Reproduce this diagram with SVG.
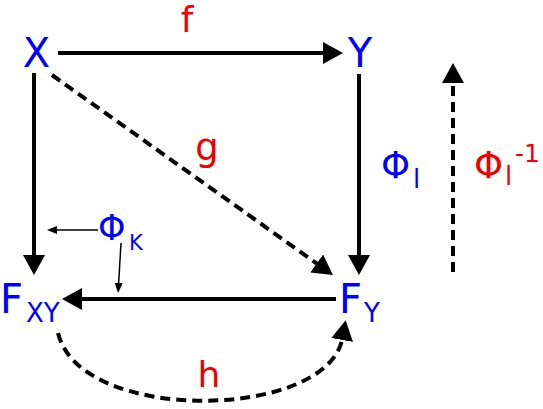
<svg xmlns="http://www.w3.org/2000/svg" width="543" height="409" viewBox="0 0 543 409">
<style>
  .lbl { font-family: "DejaVu Sans", "Liberation Sans", sans-serif; }
  .blue { fill: #0000ff; }
  .red { fill: #ee0000; }
  .thick { stroke: #000; stroke-width: 4; fill: none; }
  .dash { stroke: #000; stroke-width: 4; fill: none; stroke-dasharray: 10 6; }
  .thin { stroke: #000; stroke-width: 1.5; fill: none; }
</style>
<defs>
  <marker id="big" viewBox="0 0 20 22" refX="2" refY="11" markerWidth="20" markerHeight="22" markerUnits="userSpaceOnUse" orient="auto">
    <path d="M0,0 L20,11 L0,22 Z" fill="#000"/>
  </marker>
  <marker id="small" viewBox="0 0 10 8" refX="1" refY="4" markerWidth="10" markerHeight="8" markerUnits="userSpaceOnUse" orient="auto">
    <path d="M0,0 L10,4 L0,8 Z" fill="#000"/>
  </marker>
</defs>
<rect width="543" height="409" fill="#fff"/>
<g id="connectors">
  <line class="thick" x1="58" y1="53" x2="325" y2="53" marker-end="url(#big)"/>
  <line class="thick" x1="34" y1="73" x2="34" y2="257" marker-end="url(#big)"/>
  <line class="thick" x1="359" y1="74" x2="359" y2="257" marker-end="url(#big)"/>
  <line class="dash" x1="52" y1="75" x2="318.3" y2="264.6" marker-end="url(#big)"/>
  <line class="thick" x1="336" y1="299" x2="80" y2="299" marker-end="url(#big)"/>
  <line class="dash" x1="453" y1="272" x2="453" y2="81" marker-end="url(#big)"/>
  <path class="dash" d="M58,333 C80,425 328,420 342.5,338" marker-end="url(#big)"/>
  <line class="thin" x1="98" y1="230" x2="56" y2="230" marker-end="url(#small)"/>
  <line class="thin" x1="121" y1="243" x2="118.6" y2="284" marker-end="url(#small)"/>
  <text class="lbl red" x="187" y="32" font-size="36" text-anchor="middle">f</text>
  <text class="lbl red" x="207" y="160" font-size="37" text-anchor="middle">g</text>
  <text class="lbl red" x="209" y="387" font-size="36" text-anchor="middle">h</text>
</g>
<g id="node-X">
  <text class="lbl blue" x="36.5" y="67" font-size="40" text-anchor="middle">X</text>
</g>
<g id="node-Y">
  <text class="lbl blue" x="360" y="67" font-size="40" text-anchor="middle">Y</text>
</g>
<g id="node-FXY">
  <text class="lbl blue" font-size="40"><tspan x="0" y="313">F</tspan><tspan x="26" y="322" font-size="26">XY</tspan></text>
</g>
<g id="node-FY">
  <text class="lbl blue" font-size="40"><tspan x="339" y="313">F</tspan><tspan x="364" y="322" font-size="26">Y</tspan></text>
</g>
<g id="label-PhiK">
  <text class="lbl blue" font-size="35"><tspan x="98" y="240">Φ</tspan><tspan x="129" y="250" font-size="21">K</tspan></text>
</g>
<g id="label-PhiI">
  <text class="lbl blue" font-size="37"><tspan x="381" y="178">Φ</tspan><tspan x="413" y="188" font-size="26">l</tspan></text>
</g>
<g id="label-PhiI-inv">
  <text class="lbl red" font-size="37"><tspan x="474" y="178">Φ</tspan><tspan x="505" y="185" font-size="26">l</tspan><tspan x="515" y="162" font-size="25">-1</tspan></text>
</g>
</svg>
